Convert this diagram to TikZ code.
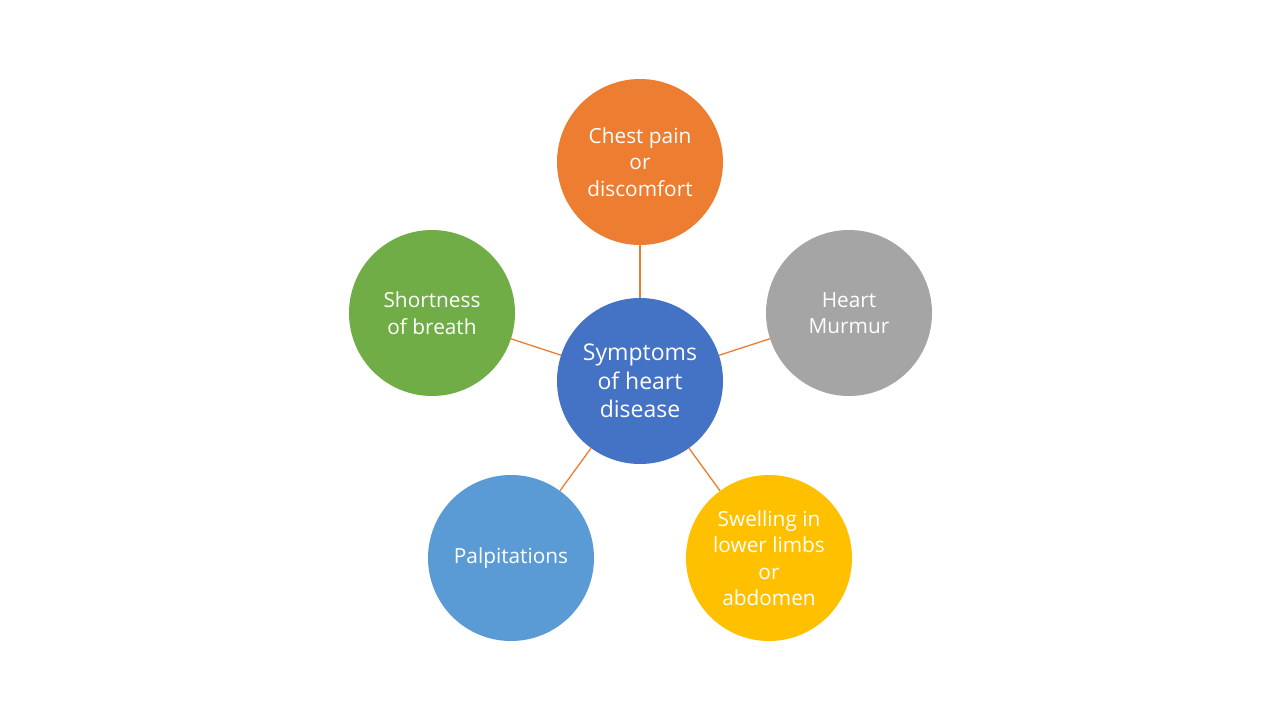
\documentclass[tikz,border=0pt]{standalone}
\usepackage{fontspec}
\setmainfont{Open Sans}
\definecolor{corange}{HTML}{ED7D31}
\definecolor{cgray}{HTML}{A5A5A5}
\definecolor{cgold}{HTML}{FFC000}
\definecolor{clblue}{HTML}{5B9BD5}
\definecolor{cgreen}{HTML}{70AD47}
\definecolor{cblue}{HTML}{4472C4}
\begin{document}
\begin{tikzpicture}[x=1pt,y=-1pt,
  bubble/.style={circle,minimum size=166pt,inner sep=0pt,text=white,align=center,
    font=\fontsize{20.8}{26.5}\selectfont},
  hub/.style={bubble,font=\fontsize{23}{28.5}\selectfont},
  link/.style={draw=corange,line width=1.3pt}]
\useasboundingbox (0,0) rectangle (1280,720);
\fill[white] (0,0) rectangle (1280,720);
\node[hub,fill=cblue] (c) at (640,381) {Symptoms\\of heart\\disease};
\node[bubble,fill=corange] (chest) at (640,162) {Chest pain\\or\\discomfort};
\node[bubble,fill=cgray] (murmur) at (849,313) {Heart\\Murmur};
\node[bubble,fill=cgold] (swell) at (769,558) {Swelling in\\lower limbs\\or\\abdomen};
\node[bubble,fill=clblue] (palp) at (511,558) {Palpitations};
\node[bubble,fill=cgreen] (short) at (432,313) {Shortness\\of breath};
\foreach \n in {chest,murmur,swell,palp,short}
  \draw[link] (c) -- (\n);
\end{tikzpicture}
\end{document}
